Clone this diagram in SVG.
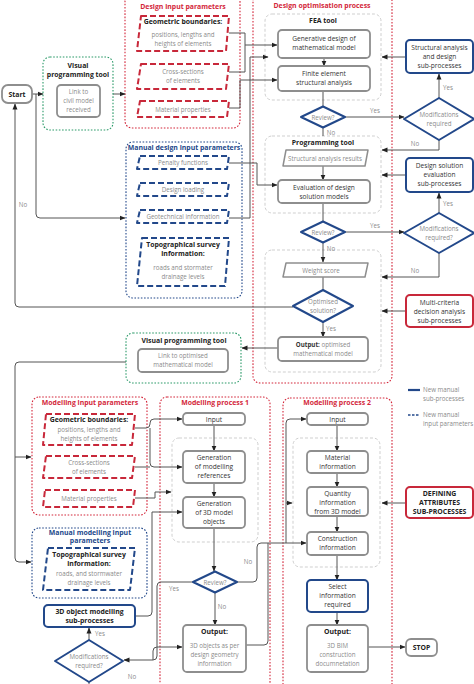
<svg xmlns="http://www.w3.org/2000/svg" width="474" height="684" viewBox="0 0 474 684">
<defs>
<marker id="ah" viewBox="0 0 6 6" refX="5.5" refY="3" markerWidth="6" markerHeight="6" markerUnits="userSpaceOnUse" orient="auto"><path d="M0,0.5 L6,3 L0,5.5 Z" fill="#222"/></marker>
<style>
text{font-family:"Open Sans","Liberation Sans",sans-serif;text-anchor:middle;}
.t{font-size:6.6px;fill:#333;}
.g{font-size:6.2px;fill:#8a8a8a;}
.b{font-size:6.9px;fill:#222;font-weight:bold;}
.rt{font-size:6.9px;fill:#d3263a;font-weight:bold;}
.bt{font-size:6.9px;fill:#22488a;font-weight:bold;}
.lg{font-size:6.2px;fill:#8a8a8a;text-anchor:start;}
.box{fill:#fff;stroke:#8e8e8e;stroke-width:1.8;}
.bbox{fill:#fff;stroke:#22488a;stroke-width:2;}
.rbox{fill:#fff;stroke:#c8283a;stroke-width:2;}
.red{fill:none;stroke:#d3263a;stroke-width:1.1;stroke-dasharray:1.6 1.6;}
.blu{fill:none;stroke:#22488a;stroke-width:1.1;stroke-dasharray:1.6 1.6;}
.grn{fill:none;stroke:#2a9a68;stroke-width:1.1;stroke-dasharray:1.6 1.6;}
.gry{fill:none;stroke:#cfcfcf;stroke-width:1;stroke-dasharray:3 2;}
.rpar{fill:#fff;stroke:#c8283a;stroke-width:2;stroke-dasharray:6 3;stroke-linejoin:round;}
.bpar{fill:#fff;stroke:#22488a;stroke-width:2;stroke-dasharray:6 3;stroke-linejoin:round;}
.gpar{fill:#fff;stroke:#8e8e8e;stroke-width:1.5;stroke-linejoin:round;}
.dia{fill:#fff;stroke:#22488a;stroke-width:2;stroke-linejoin:round;}
.c{fill:none;stroke:#555;stroke-width:1;}
.ca{fill:none;stroke:#555;stroke-width:1;marker-end:url(#ah);}
</style>
</defs>

<!-- containers -->
<g id="design-input-parameters">
<rect class="red" x="125" y="-6" width="115" height="134" rx="7"/>
<text class="rt" x="183" y="9">Design input parameters</text>
</g>
<g id="design-optimisation-process">
<rect class="red" x="253" y="-6" width="139" height="389" rx="7"/>
<text class="rt" x="322" y="8">Design optimisation process</text>
</g>
<g id="fea-tool">
<rect class="gry" x="265" y="14" width="116" height="86" rx="7"/>
<text class="b" x="323" y="23">FEA tool</text>
</g>
<g id="programming-tool">
<rect class="gry" x="265" y="136" width="116" height="77" rx="7"/>
<text class="b" x="323" y="145">Programming tool</text>
</g>
<g id="scoring-group">
<rect class="gry" x="265" y="250" width="116" height="122" rx="7"/>
</g>
<g id="manual-design-input-parameters">
<rect class="blu" x="126" y="142" width="116" height="156" rx="7"/>
<text class="bt" x="184" y="150">Manual design input parameters</text>
</g>
<g id="modelling-input-parameters">
<rect class="red" x="32" y="397" width="115" height="118" rx="7"/>
<text class="rt" x="90" y="405">Modelling input parameters</text>
</g>
<g id="manual-modelling-input-parameters">
<rect class="blu" x="32" y="528" width="115" height="70" rx="7"/>
<text class="bt" x="90" y="535">Manual modelling input</text>
<text class="bt" x="90" y="543">parameters</text>
</g>
<g id="modelling-process-1">
<rect class="red" x="160" y="397" width="110" height="300" rx="7"/>
<text class="rt" x="215" y="405">Modelling process 1</text>
<rect class="gry" x="172" y="438" width="86" height="104" rx="7"/>
</g>
<g id="modelling-process-2">
<rect class="red" x="283" y="398" width="109" height="300" rx="7"/>
<text class="rt" x="337" y="405">Modelling process 2</text>
<rect class="gry" x="293" y="438" width="87" height="129" rx="7"/>
</g>

<!-- connectors -->
<g id="connectors">
<path class="ca" d="M32,94 H43"/>
<path class="ca" d="M113,94 H125"/>
<path class="c" d="M229,33 H245 V72 H229"/>
<path class="ca" d="M245,45 H277"/>
<path class="ca" d="M229,108 H240 V80 H277"/>
<path class="ca" d="M229,218 H250 V57 H268"/>
<path class="ca" d="M229,163 H257 V185 H277"/>
<path class="ca" d="M324,58 V66"/>
<path class="c" d="M323,91 V107"/>
<path class="ca" d="M345,117 H404"/>
<path class="ca" d="M439,98 V74"/>
<path class="ca" d="M406,57 H382"/>
<path class="ca" d="M439,140 V150 H382"/>
<path class="c" d="M323,128 V136"/>
<path class="ca" d="M323,166 V180"/>
<path class="c" d="M323,203 V222"/>
<path class="ca" d="M406,175 H382"/>
<path class="ca" d="M345,232 H404"/>
<path class="ca" d="M439,213 V193"/>
<path class="ca" d="M439,253 V277 H382"/>
<path class="ca" d="M323,243 V262"/>
<path class="c" d="M323,277 V290"/>
<path class="ca" d="M406,311 H382"/>
<path class="ca" d="M323,322 V337"/>
<path class="ca" d="M278,348 H242"/>
<path class="ca" d="M293,307 H19 Q15,307 15,303 V104"/>
<path class="ca" d="M36,94 V214 Q36,218 40,218 H125"/>
<path class="ca" d="M126,362 H19 Q15,362 15,366 V558 Q15,562 19,562 H31"/>
<path class="ca" d="M15,457 H31"/>
<path class="ca" d="M135,428 H146 Q150,428 150,424 V423 Q150,419 154,419 H182"/>
<path class="ca" d="M150,428 V463 Q150,467 154,467 H182"/>
<path class="c" d="M135,467 H150"/>
<path class="ca" d="M135,498 H155 V492 H171"/>
<path class="ca" d="M135,616 H148 Q152,616 152,612 V512 H182"/>
<path class="ca" d="M214,425 V451"/>
<path class="ca" d="M214,483 V497"/>
<path class="ca" d="M214,528 V571"/>
<path class="ca" d="M215,593 V625"/>
<path class="ca" d="M237,582 H253 Q257,582 257,578 V547 Q257,543 261,543 H306"/>
<path class="c" d="M246,645 H264 Q268,645 268,641 V543"/>
<path class="ca" d="M286,543 V423 Q286,419 290,419 H306"/>
<path class="ca" d="M286,503 H292"/>
<path class="ca" d="M193,582 H161 Q157,582 157,586 V656 Q157,660 153,660 H124"/>
<path class="ca" d="M153,660 V651 Q153,647 157,647 H182"/>
<path class="ca" d="M89,640 V628"/>
<path class="c" d="M89,682 V690"/>
<path class="ca" d="M337,425 V451"/>
<path class="ca" d="M337,473 V487"/>
<path class="ca" d="M337,516 V532"/>
<path class="ca" d="M337,555 V580"/>
<path class="ca" d="M337,612 V625"/>
<path class="ca" d="M368,647 H405"/>
<path class="ca" d="M406,503 H382"/>
</g>

<!-- nodes -->
<g id="start">
<rect class="box" x="2" y="85" width="30" height="18" rx="6"/>
<text class="b" x="17" y="96.5">Start</text>
</g>
<g id="visual-programming-tool-1">
<rect class="grn" x="43" y="57" width="70" height="73" rx="7"/>
<text class="b" x="78" y="68">Visual</text>
<text class="b" x="78" y="77">programming tool</text>
<rect class="box" x="57" y="85" width="43" height="32" rx="4"/>
<text class="g" x="78.5" y="94">Link to</text>
<text class="g" x="78.5" y="103">civil model</text>
<text class="g" x="78.5" y="112">received</text>
</g>
<g id="geometric-boundaries">
<path class="rpar" d="M141,16 H229 L226,51 H137 Z"/>
<text class="b" x="183" y="24">Geometric boundaries:</text>
<text class="g" x="183" y="37">positions, lengths and</text>
<text class="g" x="183" y="46">heights of elements</text>
</g>
<g id="cross-sections">
<path class="rpar" d="M141,64 H229 L226,89 H137 Z"/>
<text class="g" x="183" y="74">Cross-sections</text>
<text class="g" x="183" y="83">of elements</text>
</g>
<g id="material-properties">
<path class="rpar" d="M140,101 H229 L227,117 H137 Z"/>
<text class="g" x="183" y="111.5">Material properties</text>
</g>
<g id="penalty-functions">
<path class="bpar" d="M140,156 H229 L227,169 H137 Z"/>
<text class="g" x="183" y="165">Penalty functions</text>
</g>
<g id="design-loading">
<path class="bpar" d="M140,183 H229 L227,196 H137 Z"/>
<text class="g" x="183" y="192">Design loading</text>
</g>
<g id="geotechnical-information">
<path class="bpar" d="M140,210 H229 L227,223 H137 Z"/>
<text class="g" x="183" y="219">Geotechnical information</text>
</g>
<g id="topographical-survey-1">
<path class="bpar" d="M142,238 H229 L225,286 H137 Z"/>
<text class="b" x="183" y="247">Topographical survey</text>
<text class="b" x="183" y="256">information:</text>
<text class="g" x="183" y="270">roads and stormater</text>
<text class="g" x="183" y="279">drainage levels</text>
</g>
<g id="generative-design">
<rect class="box" x="278" y="30" width="92" height="28" rx="4"/>
<text class="t" x="324" y="41">Generative design of</text>
<text class="t" x="324" y="50">mathematical model</text>
</g>
<g id="finite-element">
<rect class="box" x="278" y="66" width="92" height="25" rx="4"/>
<text class="t" x="324" y="76">Finite element</text>
<text class="t" x="324" y="85">structural analysis</text>
</g>
<g id="review-1">
<path class="dia" d="M301,117 L323,106.5 L345,117 L323,127.5 Z"/>
<text class="g" x="323" y="119.5">Review?</text>
<text class="g" x="375" y="113">Yes</text>
<text class="g" x="331" y="135">No</text>
</g>
<g id="modifications-1">
<path class="dia" d="M404,119 L439,98 L474,119 L439,140 Z"/>
<text class="g" x="439" y="117">Modifications</text>
<text class="g" x="439" y="126">required</text>
<text class="g" x="448" y="90">Yes</text>
<text class="g" x="415" y="146">No</text>
</g>
<g id="structural-analysis-sub">
<rect class="bbox" x="406" y="40" width="67" height="33" rx="4"/>
<text class="t" x="439.5" y="50">Structural analysis</text>
<text class="t" x="439.5" y="59">and design</text>
<text class="t" x="439.5" y="68">sub-processes</text>
</g>
<g id="structural-analysis-results">
<path class="gpar" d="M286,150 H368 L365,166 H283 Z"/>
<text class="g" x="325" y="160.5">Structural analysis results</text>
</g>
<g id="evaluation">
<rect class="box" x="278" y="180" width="92" height="23" rx="4"/>
<text class="t" x="324" y="189.5">Evaluation of design</text>
<text class="t" x="324" y="198.5">solution models</text>
</g>
<g id="design-solution-evaluation-sub">
<rect class="bbox" x="406" y="158" width="67" height="34" rx="4"/>
<text class="t" x="439.5" y="168">Design solution</text>
<text class="t" x="439.5" y="177">evaluation</text>
<text class="t" x="439.5" y="186">sub-processes</text>
</g>
<g id="review-2">
<path class="dia" d="M301,232 L323,221.5 L345,232 L323,242.5 Z"/>
<text class="g" x="323" y="234.5">Review?</text>
<text class="g" x="375" y="228">Yes</text>
<text class="g" x="331" y="251">No</text>
</g>
<g id="modifications-2">
<path class="dia" d="M404,233 L439,213 L474,233 L439,253 Z"/>
<text class="g" x="439" y="231">Modifications</text>
<text class="g" x="439" y="240">required?</text>
<text class="g" x="448" y="206">Yes</text>
<text class="g" x="415" y="273">No</text>
</g>
<g id="weight-score">
<path class="gpar" d="M286,263 H368 L365,277 H283 Z"/>
<text class="g" x="321" y="272.5">Weight score</text>
</g>
<g id="optimised-solution">
<path class="dia" d="M293,306 L323,290 L353,306 L323,322 Z"/>
<text class="g" x="323" y="304">Optimised</text>
<text class="g" x="323" y="313">solution?</text>
<text class="g" x="331" y="331">Yes</text>
<text class="g" x="23" y="207">No</text>
</g>
<g id="multi-criteria-sub">
<rect class="rbox" x="406" y="295" width="67" height="32" rx="4"/>
<text class="t" x="439.5" y="305">Multi-criteria</text>
<text class="t" x="439.5" y="314">decision analysis</text>
<text class="t" x="439.5" y="323">sub-processes</text>
</g>
<g id="output-optimised">
<rect class="box" x="278" y="337" width="90" height="24" rx="4"/>
<text class="g" x="323" y="347"><tspan style="font-weight:bold;fill:#333">Output:</tspan> optimised</text>
<text class="g" x="323" y="356">mathematical model</text>
</g>
<g id="visual-programming-tool-2">
<rect class="grn" x="126" y="333" width="115" height="50" rx="7"/>
<text class="b" x="184" y="343">Visual programming tool</text>
<rect class="box" x="138" y="349" width="90" height="23" rx="4"/>
<text class="g" x="183" y="358">Link to optimised</text>
<text class="g" x="183" y="367">mathematical model</text>
</g>
<g id="m-geometric-boundaries">
<path class="rpar" d="M46,414 H135 L132,445 H43 Z"/>
<text class="b" x="89" y="422">Geometric boundaries:</text>
<text class="g" x="89" y="432">positions, lengths and</text>
<text class="g" x="89" y="441">heights of elements</text>
</g>
<g id="m-cross-sections">
<path class="rpar" d="M46,456 H135 L132,478 H43 Z"/>
<text class="g" x="89" y="465">Cross-sections</text>
<text class="g" x="89" y="474">of elements</text>
</g>
<g id="m-material-properties">
<path class="rpar" d="M45,490 H135 L133,507 H43 Z"/>
<text class="g" x="89" y="501">Material properties</text>
</g>
<g id="m-topographical-survey">
<path class="bpar" d="M48,548 H135 L130,590 H43 Z"/>
<text class="b" x="89" y="557">Topographical survey</text>
<text class="b" x="89" y="566">information:</text>
<text class="g" x="89" y="576">roads, and stormwater</text>
<text class="g" x="89" y="585">drainage levels</text>
</g>
<g id="object-modelling-sub">
<rect class="bbox" x="44" y="605" width="91" height="22" rx="4"/>
<text class="b" x="89.5" y="614">3D object modelling</text>
<text class="b" x="89.5" y="623">sub-processes</text>
</g>
<g id="modifications-3">
<path class="dia" d="M55,661 L89,640 L123,661 L89,682 Z"/>
<text class="g" x="89" y="659">Modifications</text>
<text class="g" x="89" y="668">required?</text>
<text class="g" x="100" y="636">Yes</text>
<text class="g" x="132" y="679">No</text>
</g>
<g id="mp1-input">
<rect class="box" x="183" y="413" width="62" height="12" rx="4"/>
<text class="t" x="214" y="421.5">Input</text>
</g>
<g id="generation-references">
<rect class="box" x="183" y="451" width="62" height="32" rx="4"/>
<text class="t" x="214" y="460">Generation</text>
<text class="t" x="214" y="469">of modelling</text>
<text class="t" x="214" y="478">references</text>
</g>
<g id="generation-objects">
<rect class="box" x="183" y="497" width="62" height="31" rx="4"/>
<text class="t" x="214" y="506">Generation</text>
<text class="t" x="214" y="515">of 3D model</text>
<text class="t" x="214" y="524">objects</text>
</g>
<g id="review-3">
<path class="dia" d="M193,582 L215,571.5 L237,582 L215,592.5 Z"/>
<text class="g" x="215" y="584.5">Review?</text>
<text class="g" x="248" y="564">No</text>
<text class="g" x="174" y="591">Yes</text>
<text class="g" x="222" y="609">No</text>
</g>
<g id="mp1-output">
<rect class="box" x="183" y="625" width="63" height="47" rx="4"/>
<text class="b" x="214.5" y="634">Output:</text>
<text class="g" x="214.5" y="648">3D objects as per</text>
<text class="g" x="214.5" y="657">design geometry</text>
<text class="g" x="214.5" y="666">information</text>
</g>
<g id="mp2-input">
<rect class="box" x="307" y="413" width="61" height="12" rx="4"/>
<text class="t" x="337.5" y="421.5">Input</text>
</g>
<g id="material-information">
<rect class="box" x="307" y="451" width="61" height="22" rx="4"/>
<text class="t" x="337.5" y="460">Material</text>
<text class="t" x="337.5" y="469">information</text>
</g>
<g id="quantity-information">
<rect class="box" x="307" y="487" width="61" height="29" rx="4"/>
<text class="t" x="337.5" y="496">Quantity</text>
<text class="t" x="337.5" y="505">information</text>
<text class="t" x="337.5" y="514">from 3D model</text>
</g>
<g id="construction-information">
<rect class="box" x="307" y="532" width="61" height="23" rx="4"/>
<text class="t" x="337.5" y="541">Construction</text>
<text class="t" x="337.5" y="550">information</text>
</g>
<g id="select-information">
<rect class="bbox" x="307" y="580" width="61" height="32" rx="4"/>
<text class="t" x="337.5" y="589">Select</text>
<text class="t" x="337.5" y="598">information</text>
<text class="t" x="337.5" y="607">required</text>
</g>
<g id="mp2-output">
<rect class="box" x="307" y="625" width="61" height="47" rx="4"/>
<text class="b" x="337.5" y="634">Output:</text>
<text class="g" x="337.5" y="648">3D BIM</text>
<text class="g" x="337.5" y="657">construction</text>
<text class="g" x="337.5" y="666">documnetation</text>
</g>
<g id="stop">
<rect class="box" x="406" y="639" width="31" height="17" rx="5"/>
<text class="b" x="421.5" y="650">STOP</text>
</g>
<g id="defining-attributes-sub">
<rect class="rbox" x="406" y="487" width="67" height="31" rx="4"/>
<text class="b" x="439.5" y="496">DEFINING</text>
<text class="b" x="439.5" y="505">ATTRIBUTES</text>
<text class="b" x="439.5" y="514">SUB-PROCESSES</text>
</g>
<g id="legend">
<line x1="408" y1="390" x2="420" y2="390" stroke="#22488a" stroke-width="2.2"/>
<text class="lg" x="423" y="392">New manual</text>
<text class="lg" x="423" y="401">sub-processes</text>
<line x1="408" y1="415" x2="420" y2="415" stroke="#22488a" stroke-width="1.4" stroke-dasharray="2.5 1.5"/>
<text class="lg" x="423" y="417">New manual</text>
<text class="lg" x="423" y="426">input parameters</text>
</g>
</svg>
